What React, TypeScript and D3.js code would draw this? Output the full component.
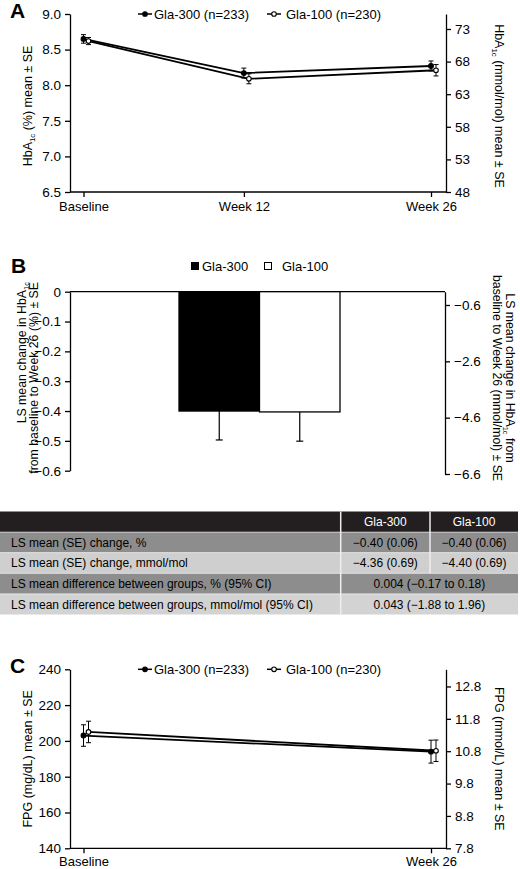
import { useEffect, useRef } from "react";
import * as d3 from "d3";

const FONT = '"Liberation Sans", Arial, Helvetica, sans-serif';

// Panel A: HbA1c over time
const weeksA = [0, 12, 26];
const weekLabelsA = ["Baseline", "Week 12", "Week 26"];
const hba1cGla300 = [8.65, 8.17, 8.27];
const hba1cGla300Se = [0.06, 0.07, 0.07];
const hba1cGla100 = [8.62, 8.09, 8.21];
const hba1cGla100Se = [0.05, 0.07, 0.08];
const hba1cTicks = [6.5, 7.0, 7.5, 8.0, 8.5, 9.0];
const hba1cMmolTicks = [48, 53, 58, 63, 68, 73];

// Panel B: LS mean change at week 26
const barGroups = ["Gla-300", "Gla-100"];
const lsMeanChange = [-0.4, -0.403];
const lsMeanLower = [-0.497, -0.501];
const changeTicks = [0, -0.1, -0.2, -0.3, -0.4, -0.5, -0.6];
const changeMmolTicks = [-0.6, -2.6, -4.6, -6.6];

// Table under panel B
const tableHeader = ["Gla-300", "Gla-100"];
const tableLabels = [
  "LS mean (SE) change, %",
  "LS mean (SE) change, mmol/mol",
  "LS mean difference between groups, % (95% CI)",
  "LS mean difference between groups, mmol/mol (95% CI)",
];
const tableGla300 = ["\u22120.40 (0.06)", "\u22124.36 (0.69)"];
const tableGla100 = ["\u22120.40 (0.06)", "\u22124.40 (0.69)"];
const tableDiff = ["0.004 (\u22120.17 to 0.18)", "0.043 (\u22121.88 to 1.96)"];

// Panel C: FPG over time
const weeksC = [0, 26];
const weekLabelsC = ["Baseline", "Week 26"];
const fpgGla300 = [203, 194];
const fpgGla300Se = [6, 6.4];
const fpgGla100 = [205, 194.5];
const fpgGla100Se = [6, 6];
const fpgTicks = [140, 160, 180, 200, 220, 240];
const fpgMmolTicks = [7.8, 8.8, 9.8, 10.8, 11.8, 12.8];

type Sel = d3.Selection<SVGGElement, unknown, null, undefined>;
type Part = [string, boolean];

const W = 520;
const H = 869;
const plotLeft = 70;
const plotRight = 446;

function richText(g: Sel, parts: Part[], x: number, y: number, rotate: number, anchor = "middle", size = 12.5) {
  const t = g
    .append("text")
    .attr("transform", `translate(${x},${y}) rotate(${rotate})`)
    .attr("text-anchor", anchor)
    .attr("font-size", size);
  let sub = false;
  parts.forEach(([s, isSub]) => {
    const ts = t.append("tspan").text(s);
    if (isSub && !sub) ts.attr("dy", 3).attr("font-size", size * 0.62);
    if (!isSub && sub) ts.attr("dy", -3);
    sub = isSub;
  });
  return t;
}

function styleAxis(g: Sel, size = 13) {
  g.selectAll("path, line").attr("stroke", "#000").attr("stroke-width", 1.3);
  g.selectAll("text").attr("fill", "#000").attr("font-size", size).attr("font-family", FONT);
}

interface LinePanel {
  top: number;
  bottom: number;
  weeks: number[];
  labels: string[];
  s300: number[];
  se300: number[];
  s100: number[];
  se100: number[];
  leftDomain: [number, number];
  leftTicks: number[];
  leftFmt: (d: number) => string;
  rightDomain: [number, number];
  rightTicks: number[];
  rightFmt: (d: number) => string;
  letter: string;
  leftLabel: Part[];
  rightLabel: Part[];
  labelShift: number;
  xPad: number;
}

function drawLinePanel(root: Sel, p: LinePanel) {
  const g = root.append("g");
  const x = d3.scaleLinear().domain([0, 26]).range([83.5, 431]);
  const yL = d3.scaleLinear().domain(p.leftDomain).range([p.bottom, p.top]);
  const yR = d3.scaleLinear().domain(p.rightDomain).range([p.bottom, p.top]);

  // bottom baseline spanning both axes
  g.append("line")
    .attr("x1", plotLeft)
    .attr("x2", plotRight)
    .attr("y1", p.bottom)
    .attr("y2", p.bottom)
    .attr("stroke", "#000")
    .attr("stroke-width", 1.3);

  const xAxis = g
    .append("g")
    .attr("transform", `translate(0,${p.bottom})`)
    .call(
      d3
        .axisBottom(x)
        .tickValues(p.weeks)
        .tickSize(5)
        .tickPadding(p.xPad)
        .tickFormat((_, i) => p.labels[i]),
    );
  xAxis.select(".domain").remove();
  styleAxis(xAxis);

  const left = g
    .append("g")
    .attr("transform", `translate(${plotLeft},0)`)
    .call(d3.axisLeft(yL).tickValues(p.leftTicks).tickSize(5).tickSizeOuter(0).tickPadding(4).tickFormat((d) => p.leftFmt(+d)));
  styleAxis(left, 13.5);

  const right = g
    .append("g")
    .attr("transform", `translate(${plotRight},0)`)
    .call(d3.axisRight(yR).tickValues(p.rightTicks).tickSize(5).tickSizeOuter(0).tickPadding(4).tickFormat((d) => p.rightFmt(+d)));
  styleAxis(right, 13.5);

  const off = 5;
  const series = [
    { vals: p.s100, se: p.se100, dx: off, filled: false },
    { vals: p.s300, se: p.se300, dx: 0, filled: true },
  ];
  const line = d3
    .line<number>()
    .x((_, i) => x(p.weeks[i]))
    .y((d) => yL(d));

  series.forEach((s) => {
    g.append("path")
      .attr("d", line(s.vals))
      .attr("transform", `translate(${s.dx},0)`)
      .attr("fill", "none")
      .attr("stroke", "#000")
      .attr("stroke-width", 1.8);
  });

  series.forEach((s) => {
    s.vals.forEach((v, i) => {
      const cx = x(p.weeks[i]) + s.dx;
      const y1 = yL(v + s.se[i]);
      const y2 = yL(v - s.se[i]);
      const eb = g.append("g").attr("stroke", "#000").attr("stroke-width", 1);
      eb.append("line").attr("x1", cx).attr("x2", cx).attr("y1", y1).attr("y2", y2);
      eb.append("line").attr("x1", cx - 2.5).attr("x2", cx + 2.5).attr("y1", y1).attr("y2", y1);
      eb.append("line").attr("x1", cx - 2.5).attr("x2", cx + 2.5).attr("y1", y2).attr("y2", y2);
    });
  });

  series.forEach((s) => {
    s.vals.forEach((v, i) => {
      g.append("circle")
        .attr("cx", x(p.weeks[i]) + s.dx)
        .attr("cy", yL(v))
        .attr("r", s.filled ? 2.4 : 2.3)
        .attr("fill", s.filled ? "#000" : "#fff")
        .attr("stroke", "#000")
        .attr("stroke-width", 1.1);
    });
  });

  // legend
  const ly = p.top;
  const leg = g.append("g");
  [
    { x0: 138, label: "Gla-300 (n=233)", filled: true, tx: 154 },
    { x0: 267, label: "Gla-100 (n=230)", filled: false, tx: 286 },
  ].forEach((l) => {
    leg.append("line").attr("x1", l.x0).attr("x2", l.x0 + 14).attr("y1", ly).attr("y2", ly).attr("stroke", "#000").attr("stroke-width", 1.5);
    leg.append("circle").attr("cx", l.x0 + 7).attr("cy", ly).attr("r", 2.3).attr("fill", l.filled ? "#000" : "#fff").attr("stroke", "#000").attr("stroke-width", 1.1);
    leg.append("text").attr("x", l.tx).attr("y", ly + 4.5).attr("font-size", 13).text(l.label);
  });

  g.append("text")
    .attr("x", 10)
    .attr("y", p.top - 14 + 17.5)
    .attr("font-size", 21)
    .attr("font-weight", "bold")
    .text(p.letter);

  const mid = (p.top + p.bottom) / 2 + p.labelShift;
  richText(g, p.leftLabel, 31.5, mid, -90);
  richText(g, p.rightLabel, 494.5, mid, 90);
}

function drawBarPanel(root: Sel) {
  const g = root.append("g");
  const top = 291.7;
  const y = d3.scaleLinear().domain([0, -0.6]).range([top, 470.7]);
  const yR = d3.scaleLinear().domain([-0.128, -6.6]).range([top, 474]);
  const x = d3.scaleBand<string>().domain(barGroups).range([179, 340]).paddingInner(0);

  g.append("line").attr("x1", plotLeft).attr("x2", plotRight - 1).attr("y1", top).attr("y2", top).attr("stroke", "#000").attr("stroke-width", 1.3);

  const left = g
    .append("g")
    .attr("transform", `translate(${plotLeft},0)`)
    .call(
      d3
        .axisLeft(y)
        .tickValues(changeTicks)
        .tickSize(5)
        .tickSizeOuter(0)
        .tickPadding(4)
        .tickFormat((d) => (+d === 0 ? "0" : d3.format(".1f")(+d))),
    );
  styleAxis(left, 13.5);

  const right = g
    .append("g")
    .attr("transform", `translate(${plotRight - 1},0)`)
    .call(d3.axisRight(yR).tickValues(changeMmolTicks).tickSize(5).tickSizeOuter(0).tickPadding(4).tickFormat(d3.format(".1f") as any));
  styleAxis(right, 13.5);

  barGroups.forEach((grp, i) => {
    const bx = x(grp)!;
    g.append("rect")
      .attr("x", bx)
      .attr("y", y(0))
      .attr("width", x.bandwidth())
      .attr("height", y(lsMeanChange[i]) - y(0))
      .attr("fill", i === 0 ? "#000" : "#fff")
      .attr("stroke", "#000")
      .attr("stroke-width", 1.3);
    const cx = bx + x.bandwidth() / 2;
    g.append("line").attr("x1", cx).attr("x2", cx).attr("y1", y(lsMeanChange[i])).attr("y2", y(lsMeanLower[i])).attr("stroke", "#000").attr("stroke-width", 1.2);
    g.append("line").attr("x1", cx - 3.5).attr("x2", cx + 3.5).attr("y1", y(lsMeanLower[i])).attr("y2", y(lsMeanLower[i])).attr("stroke", "#000").attr("stroke-width", 1.2);
  });

  // legend
  [
    { sx: 191.5, tx: 202, fill: "#000", label: "Gla-300" },
    { sx: 264.5, tx: 282, fill: "#fff", label: "Gla-100" },
  ].forEach((l) => {
    g.append("rect").attr("x", l.sx).attr("y", 262.5).attr("width", 7).attr("height", 7).attr("fill", l.fill).attr("stroke", "#000").attr("stroke-width", 1);
    g.append("text").attr("x", l.tx).attr("y", 270.5).attr("font-size", 13).text(l.label);
  });

  g.append("text").attr("x", 11).attr("y", 273).attr("font-size", 21).attr("font-weight", "bold").text("B");

  const sub: Part[] = [["LS mean change in HbA", false], ["1c", true]];
  richText(g, sub, 26, 282, -90, "end", 12.3);
  richText(g, [["from baseline to Week 26 (%) \u00b1 SE", false]], 37.7, 282, -90, "end", 12.3);
  richText(g, [["LS mean change in HbA", false], ["1c", true], [" from", false]], 505.5, 378, 90, "middle", 12.3);
  richText(g, [["baseline to Week 26 (mmol/mol) \u00b1 SE", false]], 493, 378, 90, "middle", 12.3);
}

function drawTable(root: Sel) {
  const g = root.append("g").attr("font-size", 12);
  const rows = d3.scaleBand<number>().domain(d3.range(5)).range([511.5, 614.5]);
  const colEdges = [0, 340.7, 430, 518];
  const fills = ["#231f20", "#8d8d8d", "#cfcfcf", "#8d8d8d", "#d3d3d3"];
  const rh = rows.bandwidth();

  fills.forEach((f, i) => {
    g.append("rect").attr("x", colEdges[0]).attr("y", rows(i)!).attr("width", colEdges[3]).attr("height", rh).attr("fill", f);
  });
  // row separators
  d3.range(1, 5).forEach((i) => {
    g.append("line").attr("x1", 0).attr("x2", colEdges[3]).attr("y1", rows(i)!).attr("y2", rows(i)!).attr("stroke", "#fff").attr("stroke-width", 0.8).attr("opacity", 0.7);
  });
  // column dividers
  g.append("line").attr("x1", colEdges[1]).attr("x2", colEdges[1]).attr("y1", rows(0)!).attr("y2", rows(4)! + rh).attr("stroke", "#eee").attr("stroke-width", 1.5);
  g.append("line").attr("x1", colEdges[2]).attr("x2", colEdges[2]).attr("y1", rows(0)!).attr("y2", rows(2)! + rh).attr("stroke", "#eee").attr("stroke-width", 1.5);

  const c1 = (colEdges[1] + colEdges[2]) / 2;
  const c2 = (colEdges[2] + colEdges[3]) / 2;
  const cm = (colEdges[1] + colEdges[3]) / 2;
  const ty = (i: number) => rows(i)! + rh / 2 + 4.3;

  tableHeader.forEach((h, j) => {
    g.append("text").attr("x", j === 0 ? c1 : c2).attr("y", ty(0)).attr("text-anchor", "middle").attr("fill", "#fff").text(h);
  });
  tableLabels.forEach((lab, i) => {
    g.append("text").attr("x", 11).attr("y", ty(i + 1)).text(lab);
  });
  tableGla300.forEach((v, i) => {
    g.append("text").attr("x", c1).attr("y", ty(i + 1)).attr("text-anchor", "middle").text(v);
  });
  tableGla100.forEach((v, i) => {
    g.append("text").attr("x", c2).attr("y", ty(i + 1)).attr("text-anchor", "middle").text(v);
  });
  tableDiff.forEach((v, i) => {
    g.append("text").attr("x", cm).attr("y", ty(i + 3)).attr("text-anchor", "middle").text(v);
  });
}

export default function App() {
  const svgRef = useRef<SVGSVGElement>(null);

  useEffect(() => {
    if (!svgRef.current) return;
    const svg = d3.select(svgRef.current);
    svg.selectAll("*").remove();
    const root = svg.append("g") as unknown as Sel;

    const hbLeft: Part[] = [["HbA", false], ["1c", true], [" (%) mean \u00b1 SE", false]];
    const hbRight: Part[] = [["HbA", false], ["1c", true], [" (mmol/mol) mean \u00b1 SE", false]];

    drawLinePanel(root, {
      top: 14,
      bottom: 192,
      weeks: weeksA,
      labels: weekLabelsA,
      s300: hba1cGla300,
      se300: hba1cGla300Se,
      s100: hba1cGla100,
      se100: hba1cGla100Se,
      leftDomain: [6.5, 9.0],
      leftTicks: hba1cTicks,
      leftFmt: d3.format(".1f"),
      rightDomain: [48, 75.3],
      rightTicks: hba1cMmolTicks,
      rightFmt: d3.format("d"),
      letter: "A",
      leftLabel: hbLeft,
      rightLabel: hbRight,
      labelShift: 3,
      xPad: 5,
    });

    drawBarPanel(root);
    drawTable(root);

    drawLinePanel(root, {
      top: 669.3,
      bottom: 848.3,
      weeks: weeksC,
      labels: weekLabelsC,
      s300: fpgGla300,
      se300: fpgGla300Se,
      s100: fpgGla100,
      se100: fpgGla100Se,
      leftDomain: [140, 240],
      leftTicks: fpgTicks,
      leftFmt: d3.format("d"),
      rightDomain: [7.8, 13.33],
      rightTicks: fpgMmolTicks,
      rightFmt: d3.format(".1f"),
      letter: "C",
      leftLabel: [["FPG (mg/dL) mean \u00b1 SE", false]],
      rightLabel: [["FPG (mmol/L) mean \u00b1 SE", false]],
      labelShift: 0,
      xPad: 3,
    });
  }, []);

  return (
    <svg
      ref={svgRef}
      width={W}
      height={H}
      style={{ position: "absolute", left: 0, top: 0, background: "#fff", fontFamily: FONT }}
    />
  );
}
